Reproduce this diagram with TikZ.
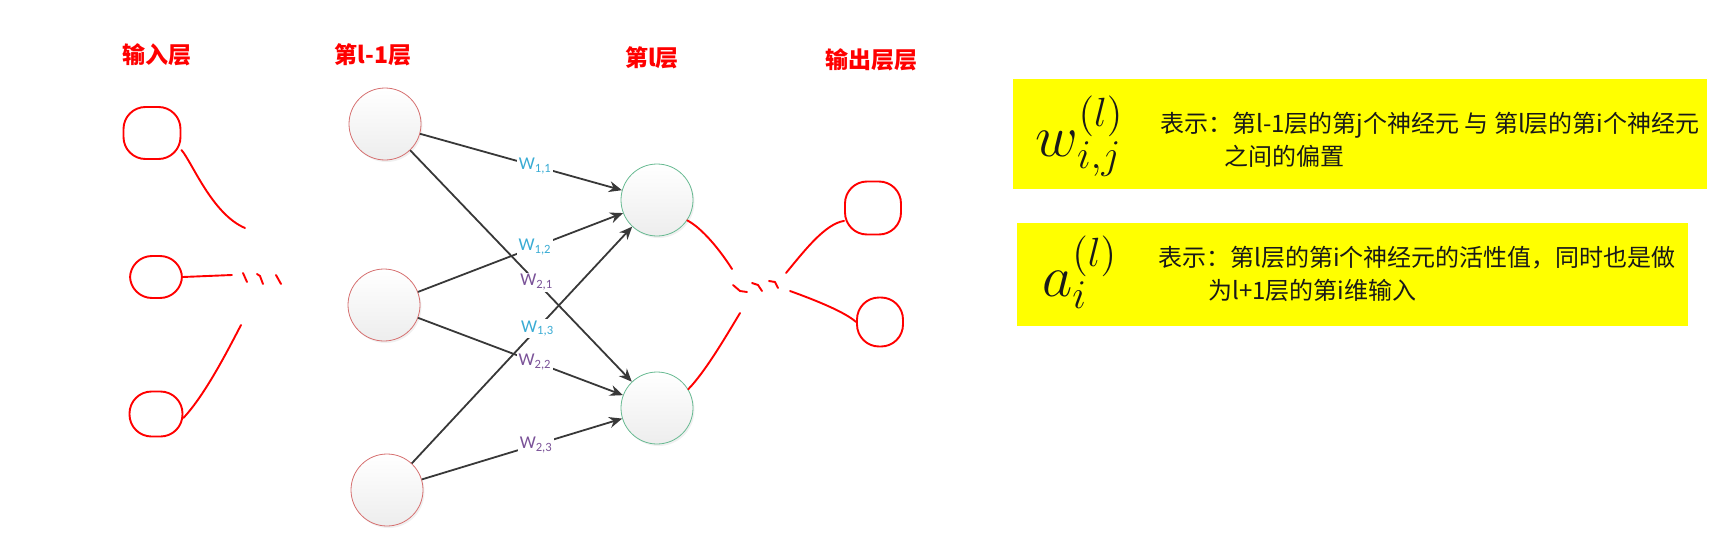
\documentclass[tikz,border=0pt]{standalone}
\usepackage{fontspec}
\usetikzlibrary{arrows.meta,shadows}
\newfontfamily\cjk{Noto Sans CJK SC}
\newfontfamily\wfont{Carlito}
\definecolor{hidred}{RGB}{214,112,112}
\definecolor{outgreen}{RGB}{104,186,146}
\definecolor{edgegray}{RGB}{56,56,56}
\definecolor{wone}{RGB}{58,172,212}
\definecolor{wtwo}{RGB}{122,82,152}
\definecolor{noteyellow}{RGB}{255,255,0}
\newcommand{\wij}[2]{W\textsubscript{#1,#2}}
\newcommand{\handsym}[1]{\scalebox{3.4}{\LARGE$#1$}}

\begin{document}
\begin{tikzpicture}[
    x=1pt, y=-1pt,
    every node/.append style={inner sep=0pt},
    title/.style={text=red, font=\cjk\bfseries\fontsize{23}{23}\selectfont},
    neuron/.style={circle, minimum size=72pt, line width=0.8pt, top color=white, bottom color=gray!14,
        drop shadow={opacity=0.12, shadow xshift=1.5pt, shadow yshift=-2pt}},
    hid/.style={neuron, draw=hidred},
    outn/.style={neuron, draw=outgreen},
    sketch/.style={draw=red, line width=1.9pt, line cap=round, line join=round},
    blob/.style={sketch, rectangle, rounded corners=22pt},
    arrow/.style={draw=edgegray, line width=1.8pt, -{Stealth[length=13pt,width=11pt]}},
    wlabel/.style={pos=0.57, fill=white, inner sep=1.5pt, font=\wfont\fontsize{18}{18}\selectfont},
    notebox/.style={fill=noteyellow},
    note/.style={anchor=west, text=black!90, font=\cjk\fontsize{24}{24}\selectfont},
    hand/.style={text=black!90}
]
    \useasboundingbox (0,0) rectangle (1720,535);

    % Layer titles
    \node[title] (tin) at (157,55) {输入层};
    \node[title] (thid) at (373,55) {第l-1层};
    \node[title] (tout) at (652,58) {第l层};
    \node[title] (tlast) at (871,60) {输出层层};

    % Layer l-1 and layer l
    \node[hid] (h1) at (385,124) {};
    \node[hid] (h2) at (384,305) {};
    \node[hid] (h3) at (387,490) {};
    \node[outn] (o1) at (657,200) {};
    \node[outn] (o2) at (657,408) {};

    % Weights
    \draw[arrow] (h1) -- node[wlabel, text=wone] {\wij11} (o1);
    \draw[arrow] (h2) -- node[wlabel, text=wone] {\wij12} (o1);
    \draw[arrow] (h3) -- node[wlabel, text=wone] {\wij13} (o1);
    \draw[arrow] (h1) -- node[wlabel, text=wtwo] {\wij21} (o2);
    \draw[arrow] (h2) -- node[wlabel, text=wtwo] {\wij22} (o2);
    \draw[arrow] (h3) -- node[wlabel, text=wtwo] {\wij23} (o2);

    % Hand-drawn input layer
    \node[blob, minimum width=57pt, minimum height=52pt] (in1) at (152,133) {};
    \node[blob, minimum width=52pt, minimum height=42pt] (in2) at (156,277) {};
    \node[blob, minimum width=53pt, minimum height=45pt] (in3) at (156,414) {};
    \coordinate (e1) at (245,228);
    \coordinate (e2) at (232,275);
    \coordinate (e3) at (241,325);
    \draw[sketch] (in1.-30) .. controls (192,162) and (212,214) .. (e1);
    \draw[sketch] (in2.east) -- (e2);
    \draw[sketch] (in3.-8) .. controls (205,395) and (228,350) .. (e3);
    \draw[sketch] (243,273) -- (247,282) (257,274) -- (260,276) -- (263,284) (276,275) -- (281,284);

    % Hand-drawn output layer
    \node[blob, minimum width=56pt, minimum height=53pt] (out1) at (873,208) {};
    \node[blob, minimum width=46pt, minimum height=49pt] (out2) at (880,322) {};
    \coordinate (f1) at (732,269);
    \coordinate (f2) at (740,313);
    \coordinate (f3) at (786,273);
    \coordinate (f4) at (790,291);
    \draw[sketch] (o1.-34) .. controls (702,228) and (720,250) .. (f1);
    \draw[sketch] (f2) .. controls (725,338) and (705,372) .. (o2.31);
    \draw[sketch] (f3) .. controls (805,250) and (825,224) .. (out1.-156);
    \draw[sketch] (f4) .. controls (815,300) and (845,312) .. (out2.west);
    \draw[sketch] (733,285) -- (740,291) -- (747,292) (752,283) -- (758,285) -- (762,291)
        (769,281) -- (775,282) -- (778,288);

    % Notes
    \node[notebox, minimum width=694pt, minimum height=110pt] (wbox) at (1360,134) {};
    \node[notebox, minimum width=671pt, minimum height=103pt] (abox) at (1352.5,274.5) {};
    \node[hand] (wsym) at (1080,136) {\handsym{w^{(l)}_{i,j}}};
    \node[hand] (asym) at (1080,272) {\handsym{a^{(l)}_{i}}};
    \node[note] (w1) at (1160,125) {表示：第l-1层的第j个神经元 与 第l层的第i个神经元};
    \node[note] (w2) at (1224,156) {之间的偏置};
    \node[note] (a1) at (1158,258) {表示：第l层的第i个神经元的活性值，同时也是做};
    \node[note] (a2) at (1208,290) {为l+1层的第i维输入};
\end{tikzpicture}
\end{document}
